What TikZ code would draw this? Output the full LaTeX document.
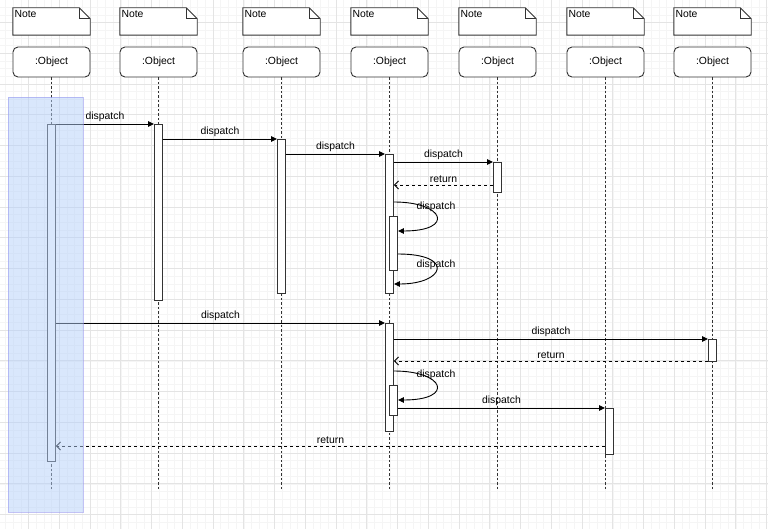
\documentclass[tikz,border=0pt]{standalone}
\usepackage{fontspec}
\setmainfont{Liberation Sans}
\usetikzlibrary{arrows.meta}
\definecolor{gridminor}{HTML}{F5F5F5}
\definecolor{gridmajor}{HTML}{E4E4E4}
\definecolor{linegray}{HTML}{333333}
\definecolor{selfill}{HTML}{B4D0FA}
\definecolor{seldraw}{HTML}{9A9AEE}
\tikzset{
	notebox/.style={minimum width=77pt, minimum height=27pt, inner sep=0pt},
	notetext/.style={anchor=north west, inner xsep=1.5pt, inner ysep=2.5pt},
	obj/.style={draw=linegray, fill=white, rounded corners=5pt, line width=0.9pt, minimum width=77pt, minimum height=30pt, inner sep=0pt},
	lifeline/.style={draw=linegray, dash pattern=on 2.5pt off 2pt, line width=0.8pt},
	bar/.style={draw=linegray, fill=white, minimum width=8pt, inner sep=0pt, line width=0.9pt},
	msg/.style={-{Triangle[length=6pt,width=5.5pt]}, line width=0.9pt},
	ret/.style={-{Straight Barb[length=4pt,width=8pt]}, dash pattern=on 3pt off 3pt, line width=0.8pt},
	lbl/.style={above, inner sep=1.8pt},
}
\begin{document}
\begin{tikzpicture}[x=1pt, y=-1pt, font=\fontsize{10.4}{12}\selectfont]
	\useasboundingbox (0,0) rectangle (768,529);
	%方眼
	\foreach \i in {0,...,99} \draw[gridminor, line width=0.5pt] ({5.44+7.6875*\i},0)--++(0,529);
	\foreach \i in {0,...,67} \draw[gridminor, line width=0.5pt] (0,{7.125+7.6875*\i})--++(768,0);
	\foreach \i in {0,...,24} \draw[gridmajor, line width=0.6pt] ({28.5+30.75*\i},0)--++(0,529);
	\foreach \i in {0,...,16} \draw[gridmajor, line width=0.6pt] (0,{22.5+30.75*\i})--++(768,0);
	%ノート
	\node[notebox] (n1) at (51.5,21.5) {};
	\node[notebox] (n2) at (158.5,21.5) {};
	\node[notebox] (n3) at (281.5,21.5) {};
	\node[notebox] (n4) at (389.5,21.5) {};
	\node[notebox] (n5) at (497.5,21.5) {};
	\node[notebox] (n6) at (605.5,21.5) {};
	\node[notebox] (n7) at (712.5,21.5) {};
	\foreach \n in {n1,n2,n3,n4,n5,n6,n7}{
		\draw[linegray, fill=white, line width=0.9pt] (\n.south west)--(\n.north west)--([xshift=-11pt]\n.north east)--([yshift=-11pt]\n.north east)--(\n.south east)--cycle;
		\draw[linegray, line width=0.9pt] ([xshift=-11pt]\n.north east)--([xshift=-11pt, yshift=-11pt]\n.north east)--([yshift=-11pt]\n.north east);
		\node[notetext] at (\n.north west) {Note};
	}
	%オブジェクト
	\node[obj] (o1) at (51.5,62) {:Object};
	\node[obj] (o2) at (158.5,62) {:Object};
	\node[obj] (o3) at (281.5,62) {:Object};
	\node[obj] (o4) at (389.5,62) {:Object};
	\node[obj] (o5) at (497.5,62) {:Object};
	\node[obj] (o6) at (605.5,62) {:Object};
	\node[obj] (o7) at (712.5,62) {:Object};
	%生存線
	\foreach \o in {o1,o2,o3,o4,o5,o6,o7}
		\draw[lifeline] (\o.south)--(\o.south |- 0,490);
	%活性区間
	\node[bar, minimum height=337pt] (a1) at (51.5,292.5) {};
	\node[bar, minimum height=176pt] (a2) at (158.5,212) {};
	\node[bar, minimum height=154pt] (a3) at (281.5,216) {};
	\node[bar, minimum height=139pt] (a4) at (389.5,223.5) {};
	\node[bar, minimum height=30pt] (a5) at (497.5,177) {};
	\node[bar, minimum height=54pt] (a6) at (393.5,243) {};
	\node[bar, minimum height=108pt] (a7) at (389.5,377) {};
	\node[bar, minimum height=30pt] (a8) at (393.5,400) {};
	\node[bar, minimum height=22pt] (a9) at (712.5,350) {};
	\node[bar, minimum height=46pt] (a10) at (609.5,431) {};
	%メッセージ
	\draw[msg] (a1.east |- 0,124)--(a2.west |- 0,124) node[lbl, midway]{dispatch};
	\draw[msg] (a2.east |- 0,139)--(a3.west |- 0,139) node[lbl, midway]{dispatch};
	\draw[msg] (a3.east |- 0,154)--(a4.west |- 0,154) node[lbl, midway]{dispatch};
	\draw[msg] (a4.east |- 0,162)--(a5.west |- 0,162) node[lbl, midway]{dispatch};
	\draw[ret] (a5.west |- 0,185)--(a4.east |- 0,185) node[lbl, midway]{return};
	%自己呼出し
	\draw[msg] (a4.east |- 0,202) .. controls (445,202) and (455,231) .. (a6.east |- 0,231);
	\node (s1) at (436,207) {dispatch};
	\draw[msg] (a6.east |- 0,254) .. controls (455,254) and (445,284) .. (a4.east |- 0,284);
	\node (s2) at (436,265) {dispatch};
	%
	\draw[msg] (a1.east |- 0,323)--(a7.west |- 0,323) node[lbl, midway]{dispatch};
	\draw[msg] (a7.east |- 0,339)--(a9.west |- 0,339) node[lbl, midway]{dispatch};
	\draw[ret] (a9.west |- 0,361)--(a7.east |- 0,361) node[lbl, midway]{return};
	\draw[msg] (a7.east |- 0,371) .. controls (445,371) and (455,400) .. (a8.east |- 0,400);
	\node (s3) at (436,375) {dispatch};
	\draw[msg] (a8.east |- 0,408)--(a10.west |- 0,408) node[lbl, midway]{dispatch};
	\draw[ret] (a10.west |- 0,446)--(a1.east |- 0,446) node[lbl, midway]{return};
	%選択範囲
	\draw[draw=seldraw, draw opacity=0.6, fill=selfill, fill opacity=0.5] (8,97) rectangle (83,512);
\end{tikzpicture}
\end{document}
